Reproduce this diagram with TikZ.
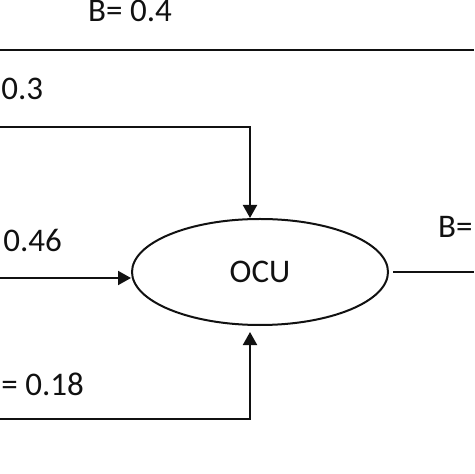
\documentclass[tikz,border=0pt]{standalone}
\usepackage{fontspec}
\setmainfont{Carlito}
\usetikzlibrary{positioning, arrows.meta, shapes.geometric}
\definecolor{cInk}{HTML}{111111}

\begin{document}
\begin{tikzpicture}[x=0.5pt, y=-0.5pt,
    wire/.style={draw=cInk, line width=1pt},
    arr/.style={wire, -{Triangle[length=6.5pt, width=7pt]}},
    lbl/.style={font=\fontsize{16.5}{20}\selectfont, text=cInk, inner sep=0pt},
  ]
  \useasboundingbox (0,0) rectangle (474,474);
  \node[ellipse, wire, minimum width=128pt, minimum height=53pt, inner sep=0pt,
        lbl] (ocu) at (260,272) {OCU};
  % path ends and corners
  \coordinate (topL) at (0,50);
  \coordinate (topR) at (474,50);
  \coordinate (inA) at (0,127);
  \coordinate (bendA) at (250,127);
  \coordinate (inB) at (0,278);
  \coordinate (inC) at (0,419);
  \coordinate (bendC) at (250,419);
  \coordinate (outR) at (474,272);
  \draw[wire] (topL) -- (topR);
  \draw[arr] (inA) -- (bendA) -- (bendA |- ocu.north);
  \draw[arr] (inB) -- (inB -| ocu.west);
  \draw[arr, shorten >=3pt] (inC) -- (bendC) -- (bendC |- ocu.south);
  \draw[wire] (ocu.east) ++(4,0) coordinate (ocuR) -- (outR);
  % coefficients
  \node[lbl, anchor=base] (bTop) at (130,22) {B= 0.4};
  \node[lbl, anchor=base west] (bA) at (1,100) {0.3};
  \node[lbl, anchor=base west] (bB) at (3,252) {0.46};
  \node[lbl, anchor=base west] (bC) at (1,395) {= 0.18};
  \node[lbl, anchor=base east] (bOut) at (473,238) {B=};
\end{tikzpicture}
\end{document}
